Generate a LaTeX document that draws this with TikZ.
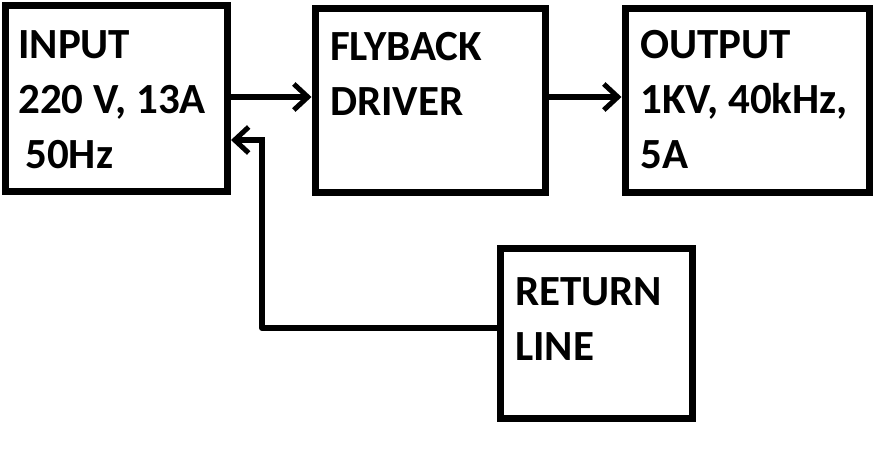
\documentclass[tikz,border=0pt]{standalone}
\usepackage{fontspec}
\setmainfont{Carlito}
\usetikzlibrary{arrows.meta}
\begin{document}
\begin{tikzpicture}[x=1pt,y=-1pt,
  box/.style={draw,line width=7pt,inner sep=0pt},
  txt/.style={anchor=north west,align=left,font=\bfseries\fontsize{43}{55}\selectfont,inner sep=0pt},
  conn/.style={line width=6pt,-{Straight Barb[length=14pt,width=26pt,line width=5pt]}}]
\useasboundingbox[fill=white] (0,0) rectangle (879,458);
\node[box,minimum width=222pt,minimum height=186pt] (in) at (116.5,98.5) {};
\node[box,minimum width=230pt,minimum height=184pt] (fb) at (430,100) {};
\node[box,minimum width=244pt,minimum height=184pt] (out) at (747,100) {};
\node[box,minimum width=192pt,minimum height=170pt] (ret) at (596,333) {};
\node[txt] (tin) at (18,30) {INPUT\\220 V, 13A\\\,50Hz};
\node[txt] (tfb) at (330,32) {FLYBACK\\DRIVER};
\node[txt] (tout) at (640,30) {OUTPUT\\1KV, 40kHz,\\5A};
\node[txt] (tret) at (515,277) {RETURN\\LINE};
\coordinate (c) at (262,328);
\draw[conn] (in.east |- 0,97) -- (fb.west |- 0,97);
\draw[conn] (fb.east |- 0,97) -- (out.west |- 0,97);
\draw[line width=6pt,line join=round] (ret.west |- c) -- (c) -- (262,140);
\draw[conn] (265,140) -- (in.east |- 0,140);
\end{tikzpicture}
\end{document}
